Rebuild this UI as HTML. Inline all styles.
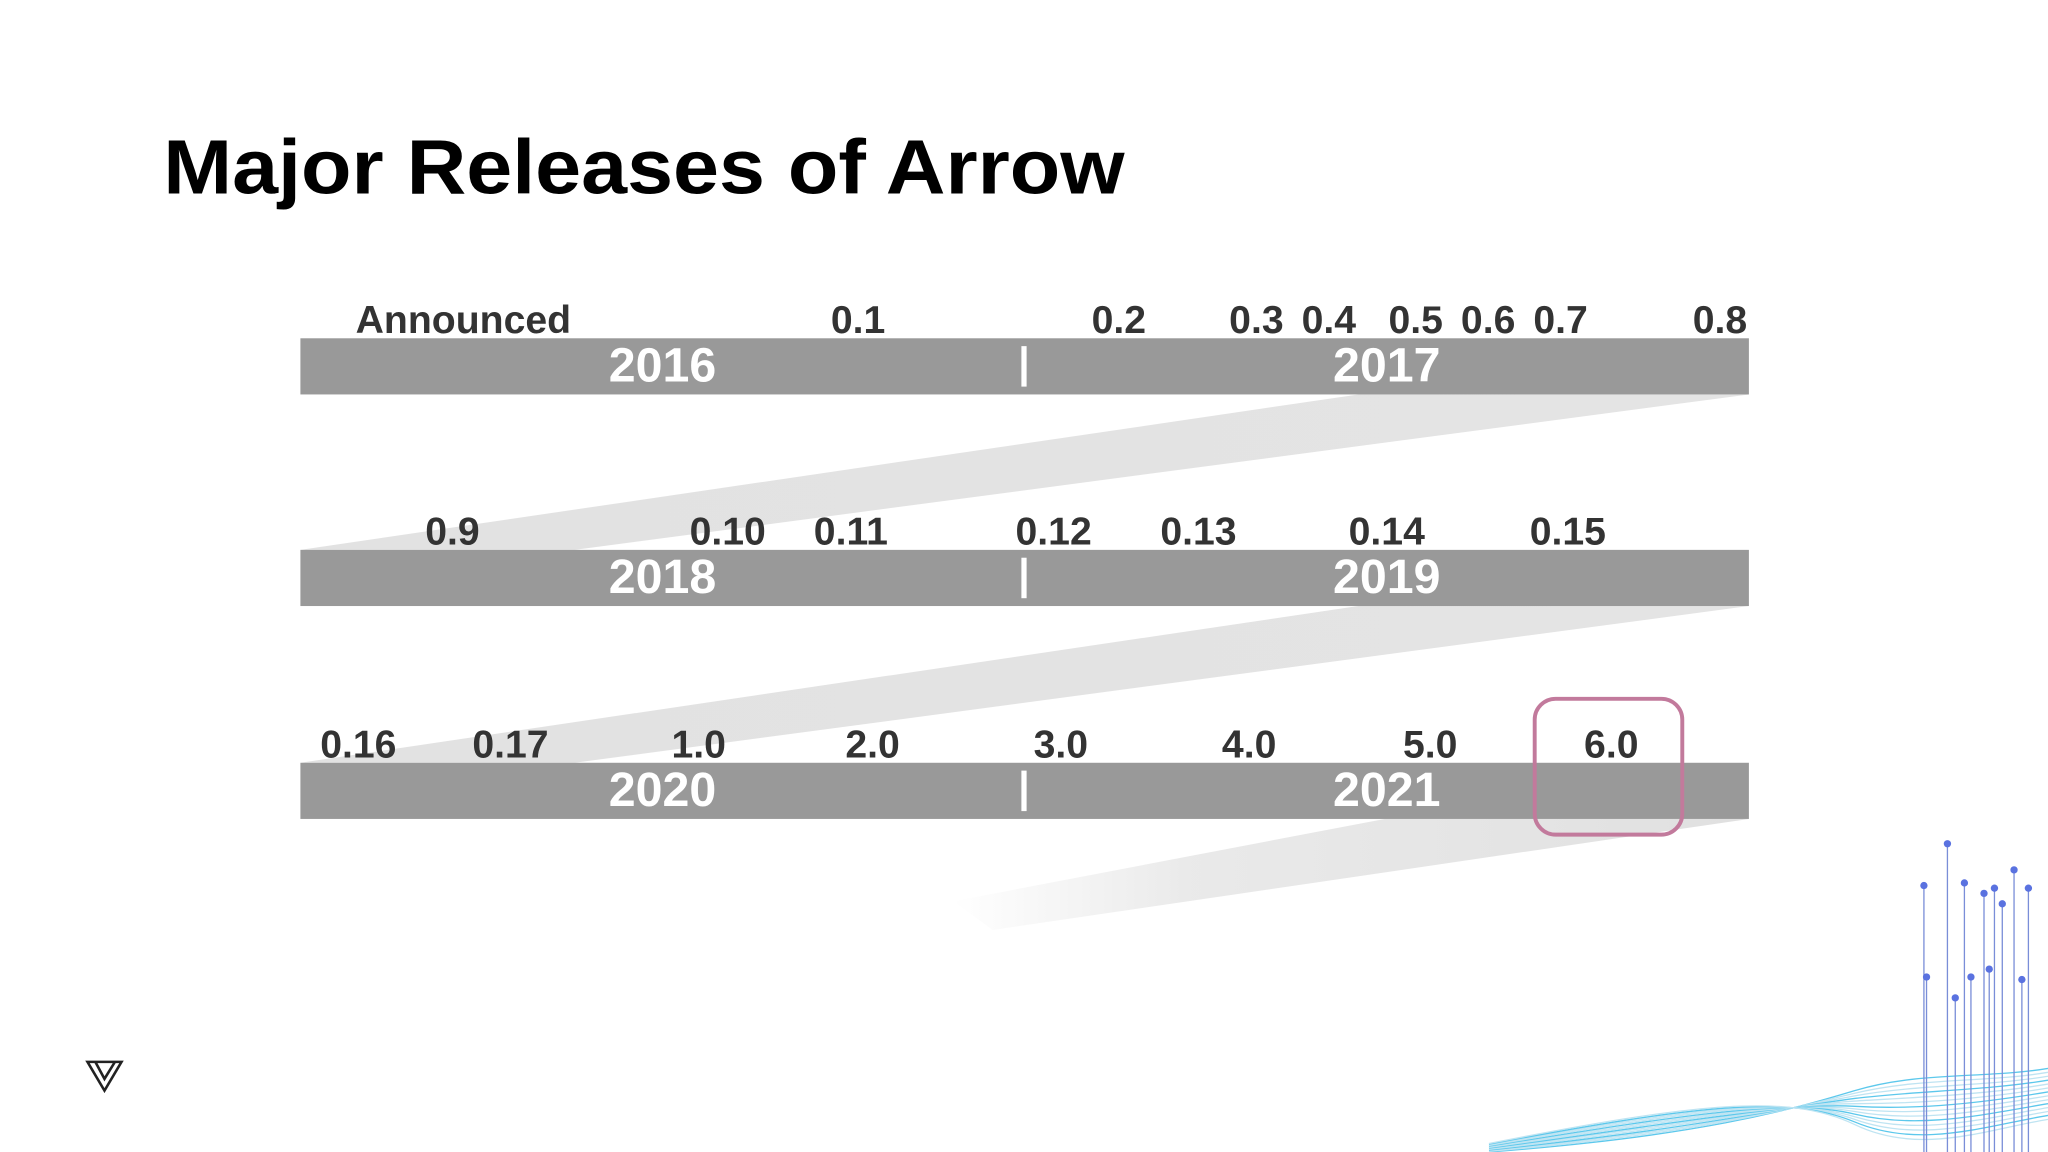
<!DOCTYPE html>
<html><head><meta charset="utf-8"><style>
html,body{margin:0;padding:0;background:#fff;}
svg{display:block;font-family:"Liberation Sans",sans-serif;}
</style></head><body>
<svg id="chart" width="2048" height="1152" viewBox="0 0 1568 882" xmlns="http://www.w3.org/2000/svg">
<defs>
<linearGradient id="bandFade" x1="0" x2="1" y1="0" y2="0">
<stop offset="0" stop-color="#e4e4e4" stop-opacity="0"/>
<stop offset="0.3" stop-color="#e4e4e4" stop-opacity="0.8"/>
<stop offset="1" stop-color="#e0e0e0"/>
</linearGradient>
<linearGradient id="bandSolid" x1="0" x2="1"><stop offset="0" stop-color="#e2e2e2"/><stop offset="1" stop-color="#e4e4e4"/></linearGradient>
</defs>
<text x="125" y="148" font-size="59" font-weight="bold" fill="#000" textLength="736" lengthAdjust="spacingAndGlyphs">Major Releases of Arrow</text>
<g id="bands"></g>
<g id="rows"></g>
<rect x="1175" y="535" width="113" height="104" rx="16" fill="none" stroke="#c27a9c" stroke-width="3"/>
<g fill="none" stroke="#222" stroke-width="2">
<path d="M67 813 L93 813 L80 835 Z"/><path d="M73 813 L80 826 L88 813"/>
</g>
<g id="deco"></g>
</svg>
<script>
const rowYears = [["2016","2017"],["2018","2019"],["2020","2021"]];
const row1Labels = ["Announced","0.1","0.2","0.3","0.4","0.5","0.6","0.7","0.8"];
const row1Times = [0.225,0.77,1.13,1.32,1.42,1.54,1.64,1.74,1.96];
const row2Labels = ["0.9","0.10","0.11","0.12","0.13","0.14","0.15"];
const row2Times = [0.21,0.59,0.76,1.04,1.24,1.50,1.75];
const row3Labels = ["0.16","0.17","1.0","2.0","3.0","4.0","5.0","6.0"];
const row3Times = [0.08,0.29,0.55,0.79,1.05,1.31,1.56,1.81];

const NS="http://www.w3.org/2000/svg";
const barX0=230, barX1=1339, barH=43;
const rowTop=[259,421,584];
function xScale(t){return barX0+(barX1-barX0)*t/2;}
function mk(tag,attrs,parent){const e=document.createElementNS(NS,tag);for(const k in attrs)e.setAttribute(k,attrs[k]);parent.appendChild(e);return e;}
const bands=document.getElementById('bands');
for(let i=0;i<2;i++){
  const yb=rowTop[i]+barH, yt=rowTop[i+1];
  const p=mk('polygon',{points:`1040,${yb} ${barX1},${yb} 440,${yt} ${barX0},${yt}`,fill:'url(#bandSolid)'},bands);
  
  
}
const tail=mk('polygon',{points:`1060,627 ${barX1},627 760,712 730,690`,fill:'url(#bandFade)'},bands);



const rows=document.getElementById('rows');
const allLabels=[row1Labels,row2Labels,row3Labels], allTimes=[row1Times,row2Times,row3Times];
for(let r=0;r<3;r++){
  const y=rowTop[r];
  const bar=mk('rect',{x:barX0,y:y,width:barX1-barX0,height:barH,fill:'#999'},rows);
  
  
  const div=mk('rect',{x:782,y:y+6,width:4,height:31,fill:'#fff'},rows);
  
  
  rowYears[r].forEach((yr,j)=>{
    const t=mk('text',{x:xScale(j+0.5),y:y+33,'text-anchor':'middle','font-size':37,'font-weight':'bold',fill:'#fff'},rows);
    t.textContent=yr;
    
    
  });
  allLabels[r].forEach((lb,j)=>{
    const t=mk('text',{x:xScale(allTimes[r][j]),y:y-4,'text-anchor':'middle','font-size':30,'font-weight':'bold',fill:'#333'},rows);
    t.textContent=lb;
    
    
  });
}
const deco=document.getElementById('deco');
for(let i=0;i<14;i++){
  mk('path',{d:`M1140 ${882-i*0.5} C1300 ${870-i*2} 1370 ${850-i*1} 1420 ${835+i*2} S1520 ${826+i*3} 1568 ${818+i*3}`,fill:'none',stroke:i%3?'#bfe4f2':'#5cc8ec','stroke-width':1},deco);
}
const pins=[[1473,678,882],[1491,646,882],[1504,676,882],[1519,684,882],[1527,680,882],[1533,692,882],[1542,666,882],[1553,680,882],[1475,748,882],[1497,764,882],[1509,748,882],[1523,742,882],[1548,750,882]];
pins.forEach(p=>{
  mk('line',{x1:p[0],y1:p[1],x2:p[0],y2:p[2],stroke:'#7a8ed8','stroke-width':1},deco);
  mk('circle',{cx:p[0],cy:p[1],r:2.8,fill:'#5a72e0'},deco);
});
</script>
</body></html>
